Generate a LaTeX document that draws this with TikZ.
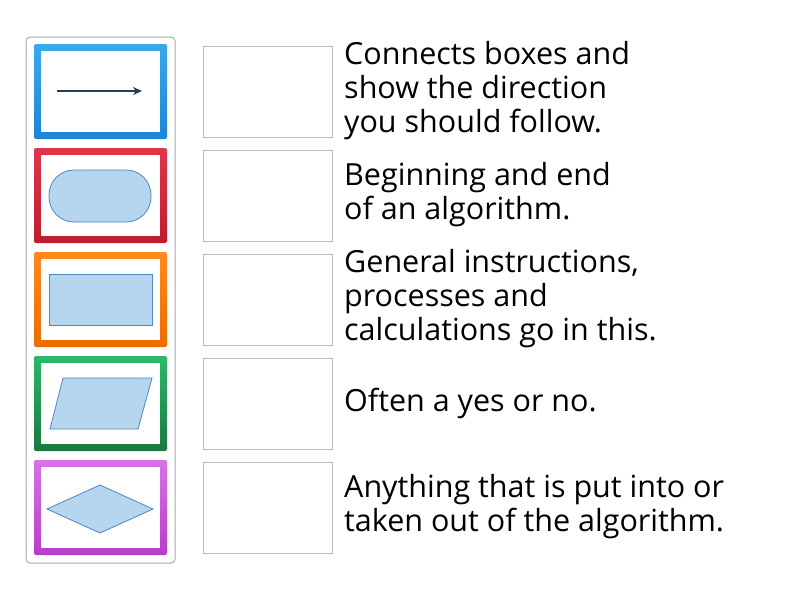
\documentclass[tikz,border=0pt]{standalone}
\usepackage{fontspec}
\setmainfont{Open Sans}
\usetikzlibrary{arrows.meta,shapes.geometric}
\definecolor{bluetop}{HTML}{3AA8EE}
\definecolor{bluebot}{HTML}{1C86D6}
\definecolor{redtop}{HTML}{E0364A}
\definecolor{redbot}{HTML}{BF1C2E}
\definecolor{orangetop}{HTML}{FF8A1E}
\definecolor{orangebot}{HTML}{EC6C00}
\definecolor{greentop}{HTML}{2DB86A}
\definecolor{greenbot}{HTML}{1C7840}
\definecolor{purpletop}{HTML}{D873E4}
\definecolor{purplebot}{HTML}{B73DCA}
\definecolor{shapefill}{HTML}{B6D5EE}
\definecolor{shapeline}{HTML}{4E86C6}
\definecolor{arrowcol}{HTML}{2B3A55}
\definecolor{boxgray}{HTML}{BBBBBB}
\definecolor{panelgray}{HTML}{AAAAAA}
\tikzset{
  inner/.style={fill=white, draw=none},
  shp/.style={fill=shapefill, draw=shapeline, line width=0.8pt},
  emptybox/.style={draw=boxgray, line width=1pt, fill=white},
  desc/.style={anchor=west, align=left, inner sep=0pt, font=\fontsize{30.5}{34}\selectfont, text=black},
}
\newcommand{\tile}[4]{%
  \shade[top color=#2top, bottom color=#2bot, rounded corners=2pt] (34,#1) rectangle (167,#1+95);
  \fill[white] (41,#1+7) rectangle (160,#1+88);
}
\begin{document}
\begin{tikzpicture}[x=1pt,y=-1pt]
\useasboundingbox (0,0) rectangle (800,600);
\fill[white] (0,0) rectangle (800,600);
% panel
\draw[panelgray, line width=1pt, rounded corners=4pt] (26,37) rectangle (175,563);
% tiles
\tile{44}{blue}{}{}
\tile{148}{red}{}{}
\tile{252}{orange}{}{}
\tile{356}{green}{}{}
\tile{460}{purple}{}{}
% tile contents
\coordinate (a1) at (57,91);
\coordinate (a2) at (142,91);
\draw[arrowcol, line width=1.5pt, -{Stealth[length=9pt,width=8pt]}] (a1) -- (a2);
\draw[shp, rounded corners=25pt] (49,170) rectangle (151,222);
\draw[shp] (49,274) rectangle (152,325);
\draw[shp] (63,378) -- (152,378) -- (138,429) -- (50,429) -- cycle;
\draw[shp] (47,509) -- (100,485) -- (153,509) -- (100,533) -- cycle;
% empty boxes
\foreach \i in {0,...,4}{
  \draw[emptybox] (203,46+104*\i) rectangle (332,137+104*\i);
}
% descriptions
\node[desc] (d1) at (344,91) {Connects boxes and\\show the direction\\you should follow.};
\node[desc] (d2) at (344,195) {Beginning and end\\of an algorithm.};
\node[desc] (d3) at (344,299) {General instructions,\\processes and\\calculations go in this.};
\node[desc] (d4) at (344,403) {Often a yes or no.};
\node[desc] (d5) at (344,507) {Anything that is put into or\\taken out of the algorithm.};
\end{tikzpicture}
\end{document}
